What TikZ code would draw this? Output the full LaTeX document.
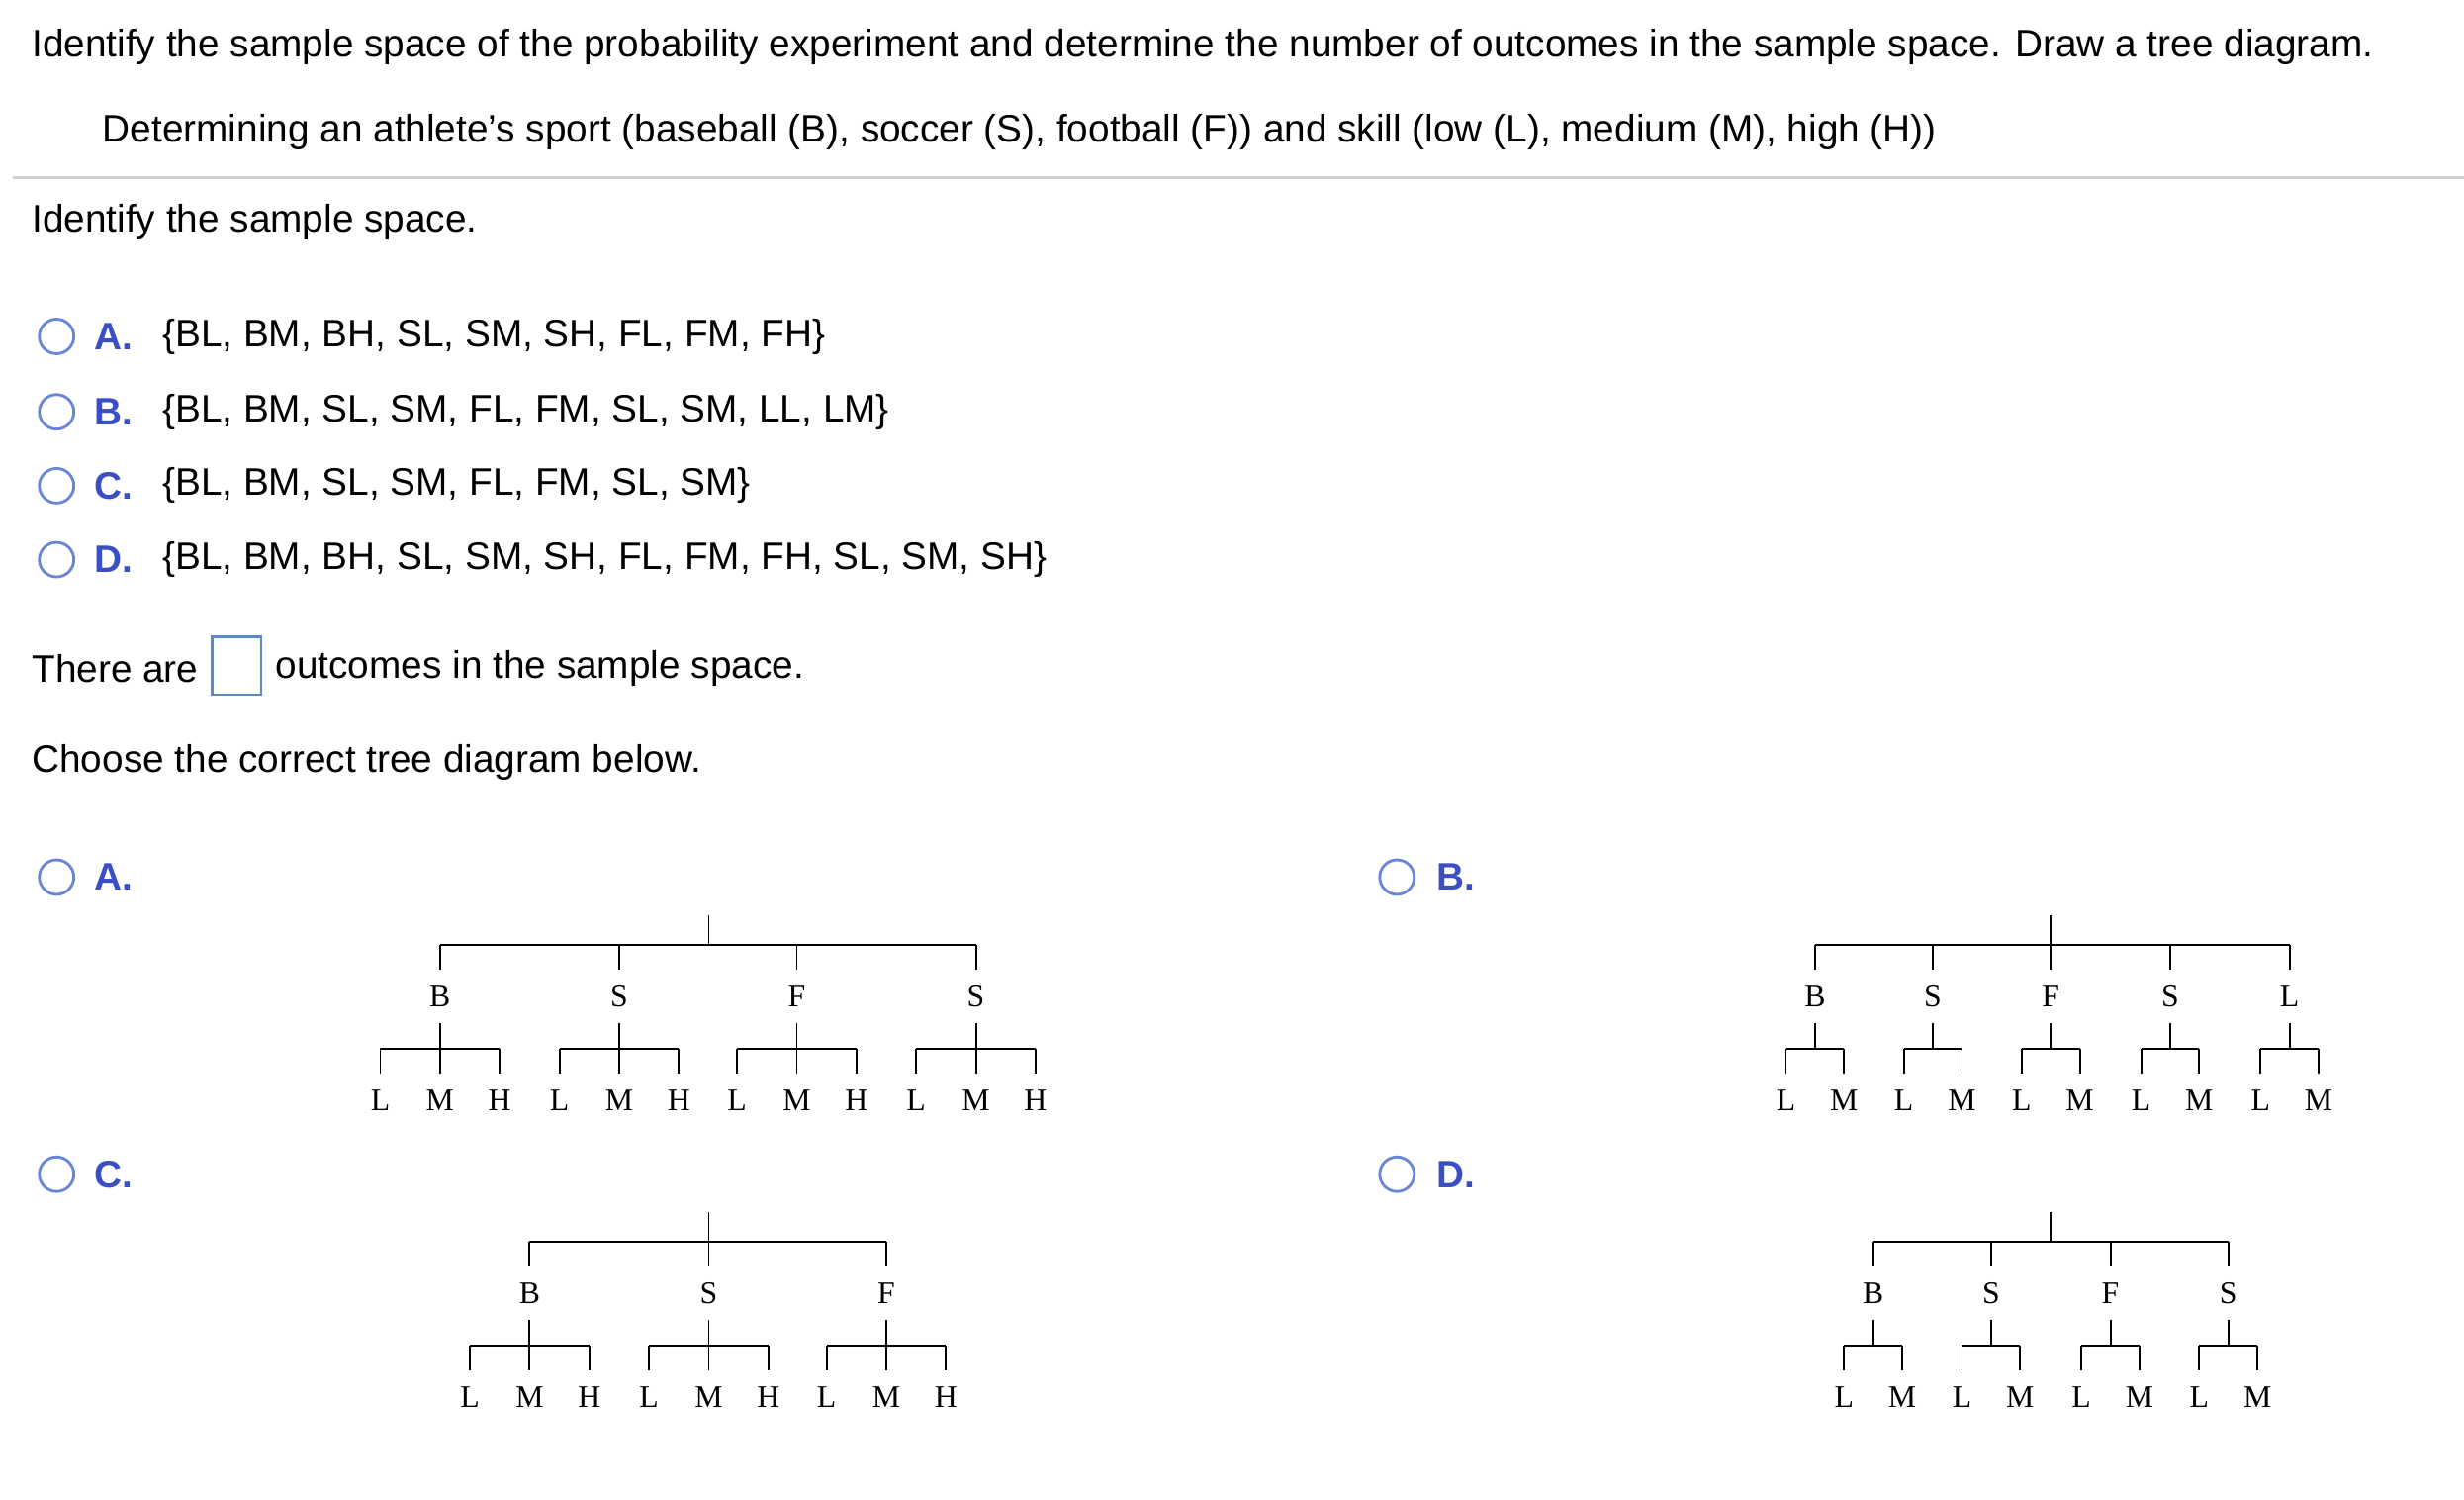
\documentclass[tikz,border=0pt]{standalone}
\usepackage{fontspec}
\setmainfont{Liberation Sans}
\newfontfamily\treefont{Liberation Serif}
\definecolor{optblue}{HTML}{3B4FC4}
\definecolor{radio}{HTML}{6B86D6}
\definecolor{boxc}{HTML}{5A8AC6}
\tikzset{
  txt/.style={anchor=west,inner sep=0pt,font=\fontsize{12.2}{14}\selectfont},
  opt/.style={anchor=west,inner sep=0pt,font=\bfseries\fontsize{12.2}{14}\selectfont,text=optblue},
  rad/.style={circle,draw=radio,line width=0.9pt,minimum size=11pt,inner sep=0pt},
  lab/.style={inner sep=0pt,font=\treefont\fontsize{10}{12}\selectfont},
  br/.style={line width=0.6pt}
}
\newcommand{\treeA}[6]{% rootx, rooty, list of x:label, half-spacing, leaves, name
  \coordinate (#6r) at (#1,#2);
  \coordinate (#6rb) at (#1,#2+19);
  \draw[br] (#6r) -- (#6rb);
  \foreach \x/\l [count=\i] in {#3}{
    \coordinate (#6t\i) at (\x,#2+19);
    \coordinate (#6d\i) at (\x,#2+35);
    \draw[br] (#6t\i) -- (#6d\i);
    \node[lab] (#6n\i) at (\x,#2+52) {\l};
    \coordinate (#6s\i) at (\x,#2+69);
    \coordinate (#6h\i) at (\x,#2+85);
    \draw[br] (#6s\i) -- (#6h\i);
    \draw[br] (\x-#4,#2+85) -- (\x+#4,#2+85);
    \foreach \lf/\o [count=\j] in {#5}{
      \coordinate (#6a\i\j) at (\x+\o,#2+85);
      \coordinate (#6b\i\j) at (\x+\o,#2+101);
      \draw[br] (#6a\i\j) -- (#6b\i\j);
      \node[lab] (#6l\i\j) at (\x+\o,#2+118) {\lf};
    }
  }
}
\begin{document}
\begin{tikzpicture}[x=0.5pt,y=-0.5pt]
\useasboundingbox (0,0) rectangle (1568,954);
\node[txt] (t1) at (20,30) {Identify the sample space of the probability experiment and determine the number of outcomes in the sample space. Draw a tree diagram.};
\node[txt] (t2) at (65,84) {Determining an athlete{\char"0027}s sport (baseball (B), soccer (S), football (F)) and skill (low (L), medium (M), high (H))};
\draw[black!18,line width=0.7pt] (8,113) -- (1568,113);
\node[txt] (t3) at (20,141) {Identify the sample space.};
\foreach \y/\a/\s [count=\i] in {214/A./{\{BL, BM, BH, SL, SM, SH, FL, FM, FH\}},
  262/B./{\{BL, BM, SL, SM, FL, FM, SL, SM, LL, LM\}},
  309/C./{\{BL, BM, SL, SM, FL, FM, SL, SM\}},
  356/D./{\{BL, BM, BH, SL, SM, SH, FL, FM, FH, SL, SM, SH\}}}{
  \node[rad] (r\i) at (36,\y) {};
  \node[opt] (o\i) at (60,\y) {\a};
  \node[txt] (s\i) at (103,\y) {\s};
}
\node[txt] (t4) at (20,425) {There are};
\node[draw=boxc,line width=0.7pt,minimum width=15.5pt,minimum height=18.5pt,inner sep=0pt] (bx) at (150.5,423.5) {};
\node[txt] (t5) at (175,425) {outcomes in the sample space.};
\node[txt] (t6) at (20,485) {Choose the correct tree diagram below.};
\node[rad] (ra) at (36,558) {}; \node[opt] (la) at (60,558) {A.};
\node[rad] (rb) at (889,558) {}; \node[opt] (lb) at (914,558) {B.};
\node[rad] (rc) at (36,747) {}; \node[opt] (lc) at (60,747) {C.};
\node[rad] (rd) at (889,747) {}; \node[opt] (ld) at (914,747) {D.};
% tree A
\draw[br] (280,601) -- (621,601);
\treeA{451}{582}{280/B,394/S,507/F,621/S}{38}{L/-38,M/0,H/38}{ta}
% tree B
\draw[br] (1155,601) -- (1457,601);
\treeA{1305}{582}{1155/B,1230/S,1305/F,1381/S,1457/L}{18.5}{L/-18.5,M/18.5}{tb}
% tree C
\draw[br] (337,790) -- (564,790);
\treeA{451}{771}{337/B,451/S,564/F}{38}{L/-38,M/0,H/38}{tc}
% tree D
\draw[br] (1192,790) -- (1418,790);
\treeA{1305}{771}{1192/B,1267/S,1343/F,1418/S}{18.5}{L/-18.5,M/18.5}{td}
\end{tikzpicture}
\end{document}
